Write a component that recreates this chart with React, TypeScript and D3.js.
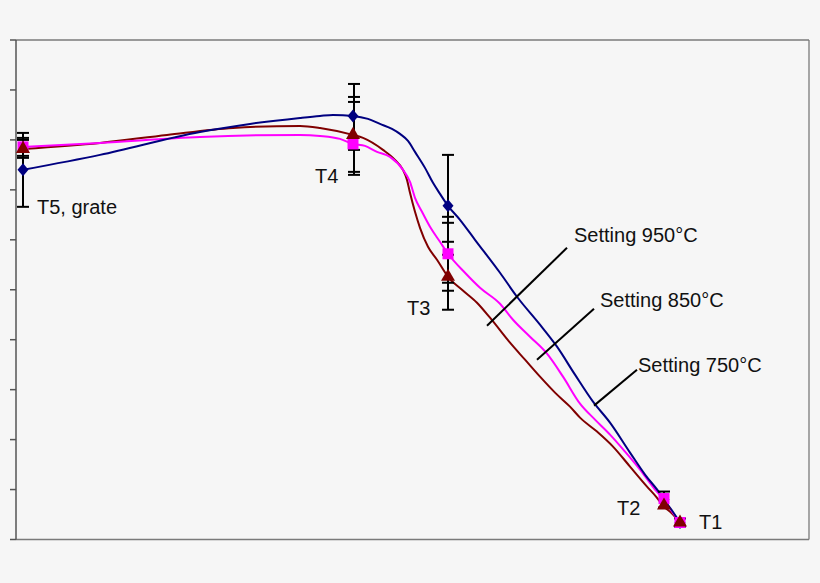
import React from "react";
import * as d3 from "d3";

// x: position along the furnace (arbitrary units), y: temperature (°C)
const blueLine: [number, number][] = [
  [0.07, 740], [0.84, 770], [1.84, 816], [2.34, 832], [2.84, 844], [3.04, 848], [3.17, 850], [3.37, 848],
  [3.52, 842], [3.64, 832], [3.76, 822], [3.84, 812], [3.92, 798], [3.99, 776], [4.09, 744], [4.17, 714],
  [4.24, 692], [4.32, 668], [4.44, 640], [4.59, 600], [4.84, 534], [5.01, 486], [5.24, 430], [5.41, 386],
  [5.59, 330], [5.77, 276], [5.94, 234], [6.14, 174], [6.29, 130], [6.44, 92], [6.48, 80], [6.56, 58], [6.64, 34],
];
const magentaLine: [number, number][] = [
  [0.07, 786], [0.84, 794], [1.84, 806], [2.84, 810], [3.04, 808], [3.24, 802], [3.37, 792], [3.49, 788],
  [3.61, 776], [3.74, 766], [3.87, 740], [3.94, 716], [3.99, 684], [4.06, 656], [4.14, 626], [4.24, 596],
  [4.32, 572], [4.49, 534], [4.64, 504], [4.84, 472], [4.97, 440], [5.14, 406], [5.31, 372], [5.47, 326],
  [5.64, 272], [5.79, 240], [5.94, 210], [6.09, 176], [6.24, 140], [6.39, 100], [6.48, 80], [6.56, 56], [6.64, 34],
];
const redLine: [number, number][] = [
  [0.07, 782], [0.84, 794], [1.51, 810], [2.17, 824], [2.84, 828], [3.04, 824], [3.37, 810], [3.47, 804],
  [3.67, 780], [3.79, 760], [3.87, 740], [3.91, 720], [3.94, 694], [3.99, 656], [4.04, 624], [4.12, 586],
  [4.21, 560], [4.32, 526], [4.46, 500], [4.61, 474], [4.74, 444], [4.94, 394], [5.09, 360], [5.24, 326],
  [5.39, 294], [5.54, 266], [5.64, 244], [5.81, 216], [5.97, 186], [6.14, 146], [6.31, 106], [6.40, 86],
  [6.48, 66], [6.56, 52], [6.64, 34],
];

const blueMarkers: [number, number][] = [[0.07, 740], [3.37, 848], [4.32, 668], [6.48, 80], [6.64, 34]];
const magentaMarkers: [number, number][] = [[0.07, 786], [3.37, 792], [4.32, 572], [6.48, 82], [6.64, 34]];
const redMarkers: [number, number][] = [[0.07, 782], [3.37, 810], [4.32, 526], [6.48, 68], [6.64, 34]];

// error bars: [x, low, high]
const errorBars: [number, number, number][] = [
  [0.07, 666, 814], [0.07, 768, 804], [0.07, 764, 800],
  [3.38, 780, 912], [3.38, 736, 886], [3.38, 730, 876],
  [4.32, 570, 770], [4.32, 498, 646], [4.32, 514, 634], [4.32, 460, 596],
  [6.48, 64, 96],
  [6.64, 26, 42],
];

const pointLabels: { text: string; x: number; y: number }[] = [
  { text: "T5, grate", x: 0.21, y: 652 },
  { text: "T4", x: 2.99, y: 714 },
  { text: "T3", x: 3.91, y: 450 },
  { text: "T2", x: 6.01, y: 50 },
  { text: "T1", x: 6.83, y: 22 },
];

const seriesLabels: { text: string; x: number; y: number; from: [number, number]; to: [number, number] }[] = [
  { text: "Setting 950°C", x: 5.58, y: 596, from: [5.51, 584], to: [4.71, 428] },
  { text: "Setting 850°C", x: 5.84, y: 466, from: [5.78, 462], to: [5.21, 360] },
  { text: "Setting 750°C", x: 6.22, y: 336, from: [6.21, 340], to: [5.78, 268] },
];

const yTicks = [0, 100, 200, 300, 400, 500, 600, 700, 800, 900, 1000];

const W = 820;
const H = 583;
const left = 16, right = 809, top = 40, bottom = 539.5;

export default function App() {
  const x = d3.scaleLinear().domain([0, 7.93]).range([left, right]);
  const y = d3.scaleLinear().domain([0, 1000]).range([bottom, top]);
  const line = d3
    .line<[number, number]>()
    .x((d) => x(d[0]))
    .y((d) => y(d[1]))
    .curve(d3.curveMonotoneX);

  const font = "'Liberation Sans', Arial, Helvetica, sans-serif";
  const tri = d3.symbol().type(d3.symbolTriangle).size(85)() as string;
  const dia = "M0,-6.5L5.5,0L0,6.5L-5.5,0Z";

  return (
    <svg
      width={W}
      height={H}
      style={{ position: "absolute", left: 0, top: 0, background: "#f6f6f6" }}
    >
      <rect x={0} y={0} width={W} height={H} fill="#f6f6f6" />
      {/* frame */}
      <line x1={left} x2={right} y1={top} y2={top} stroke="#7a7a7a" strokeWidth={1.3} />
      <line x1={right} x2={right} y1={top} y2={bottom} stroke="#7a7a7a" strokeWidth={1.3} />
      <line x1={left} x2={right} y1={bottom} y2={bottom} stroke="#7a7a7a" strokeWidth={1.3} />
      <line x1={left} x2={left} y1={top} y2={bottom} stroke="#555" strokeWidth={1.5} />
      {yTicks.map((t) => (
        <line key={t} x1={left - 6} x2={left} y1={y(t)} y2={y(t)} stroke="#555" strokeWidth={1.5} />
      ))}

      {/* lines */}
      <path d={line(redLine) || ""} fill="none" stroke="#800000" strokeWidth={2} />
      <path d={line(magentaLine) || ""} fill="none" stroke="#ff00ff" strokeWidth={2} />
      <path d={line(blueLine) || ""} fill="none" stroke="#000080" strokeWidth={2} />

      {/* error bars */}
      {errorBars.map(([ex, lo, hi], i) => (
        <g key={i} stroke="#000" strokeWidth={2}>
          <line x1={x(ex)} x2={x(ex)} y1={y(lo)} y2={y(hi)} />
          <line x1={x(ex) - 6} x2={x(ex) + 6} y1={y(lo)} y2={y(lo)} />
          <line x1={x(ex) - 6} x2={x(ex) + 6} y1={y(hi)} y2={y(hi)} />
        </g>
      ))}

      {/* markers */}
      {blueMarkers.map(([mx, my], i) => (
        <path key={"b" + i} d={dia} transform={`translate(${x(mx)},${y(my)})`} fill="#000080" />
      ))}
      {magentaMarkers.map(([mx, my], i) => (
        <rect key={"m" + i} x={x(mx) - 5.5} y={y(my) - 5.5} width={11} height={11} fill="#ff00ff" />
      ))}
      {redMarkers.map(([mx, my], i) => (
        <path key={"r" + i} d={tri} transform={`translate(${x(mx)},${y(my)})`} fill="#800000" />
      ))}

      {/* leader lines */}
      {seriesLabels.map((s, i) => (
        <line
          key={"l" + i}
          x1={x(s.from[0])}
          y1={y(s.from[1])}
          x2={x(s.to[0])}
          y2={y(s.to[1])}
          stroke="#000"
          strokeWidth={2}
        />
      ))}

      {/* texts */}
      {pointLabels.map((p, i) => (
        <text key={"p" + i} x={x(p.x)} y={y(p.y)} fontFamily={font} fontSize={20} fill="#111">
          {p.text}
        </text>
      ))}
      {seriesLabels.map((s, i) => (
        <text key={"s" + i} x={x(s.x)} y={y(s.y)} fontFamily={font} fontSize={20} fill="#111">
          {s.text}
        </text>
      ))}
    </svg>
  );
}
